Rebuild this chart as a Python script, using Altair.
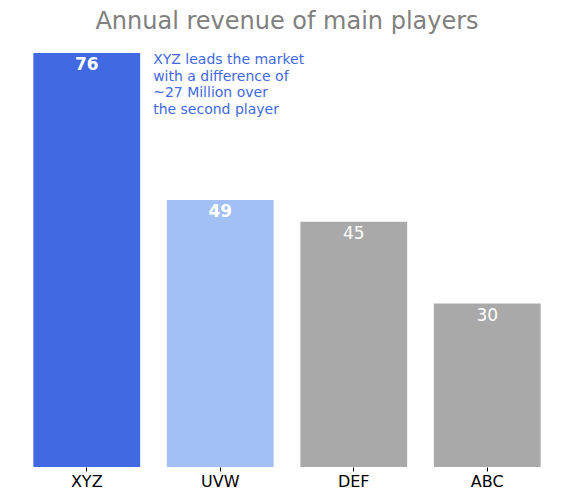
import pandas as pd
import altair as alt

# ---------- data ----------
players = ["XYZ", "UVW", "DEF", "ABC"]
revenue = [76, 49, 45, 30]
bar_colors = ["#4169E1", "#A2C0F4", "#A9A9A9", "#A9A9A9"]
label_weights = ["bold", "bold", "normal", "normal"]
note_lines = [
    "XYZ leads the market",
    "with a difference of",
    "~27 Million over",
    "the second player",
]

df = pd.DataFrame({
    "player": players,
    "revenue": revenue,
    "color": bar_colors,
    "weight": label_weights,
})

FONT = "DejaVu Sans"

x_enc = alt.X(
    "player:N",
    sort=players,
    title=None,
    scale=alt.Scale(paddingInner=0.2, paddingOuter=0.1),
    axis=alt.Axis(
        labelAngle=0, labelFontSize=16, labelColor="black", labelFont=FONT,
        domain=False, ticks=True, tickColor="black", tickSize=4, labelPadding=2,
    ),
)
y_enc = alt.Y("revenue:Q", scale=alt.Scale(domain=[0, 76], nice=False), axis=None)

base = alt.Chart(df).encode(x=x_enc, y=y_enc)

bars = base.mark_bar().encode(color=alt.Color("color:N", scale=None))

bold_labels = base.transform_filter(alt.datum.weight == "bold").mark_text(
    baseline="top", dy=4, fontSize=17, fontWeight="bold", color="white", font=FONT
).encode(text="revenue:Q")

normal_labels = base.transform_filter(alt.datum.weight == "normal").mark_text(
    baseline="top", dy=4, fontSize=17, fontWeight="normal", color="white", font=FONT
).encode(text="revenue:Q")

note = alt.Chart(pd.DataFrame({"player": ["XYZ"], "revenue": [76]})).mark_text(
    align="left", baseline="top", dx=13, dy=0, fontSize=14, lineHeight=16.5,
    color="#4169E1", font=FONT,
).encode(
    x=alt.X("player:N", sort=players, bandPosition=1),
    y=alt.Y("revenue:Q"),
    text=alt.value(note_lines),
)

chart = (
    alt.layer(bars, bold_labels, normal_labels, note)
    .properties(
        width=534,
        height=414,
        title=alt.Title(
            "Annual revenue of main players", fontSize=24, fontWeight="normal",
            color="gray", font=FONT, anchor="middle", offset=19,
        ),
        autosize=alt.AutoSizeParams(type="none"),
        padding={"left": 12, "top": 45, "right": 10, "bottom": 30},
    )
    .configure_view(stroke=None)
)

chart.save("out.html", embed_options={"renderer": "svg", "actions": False})
